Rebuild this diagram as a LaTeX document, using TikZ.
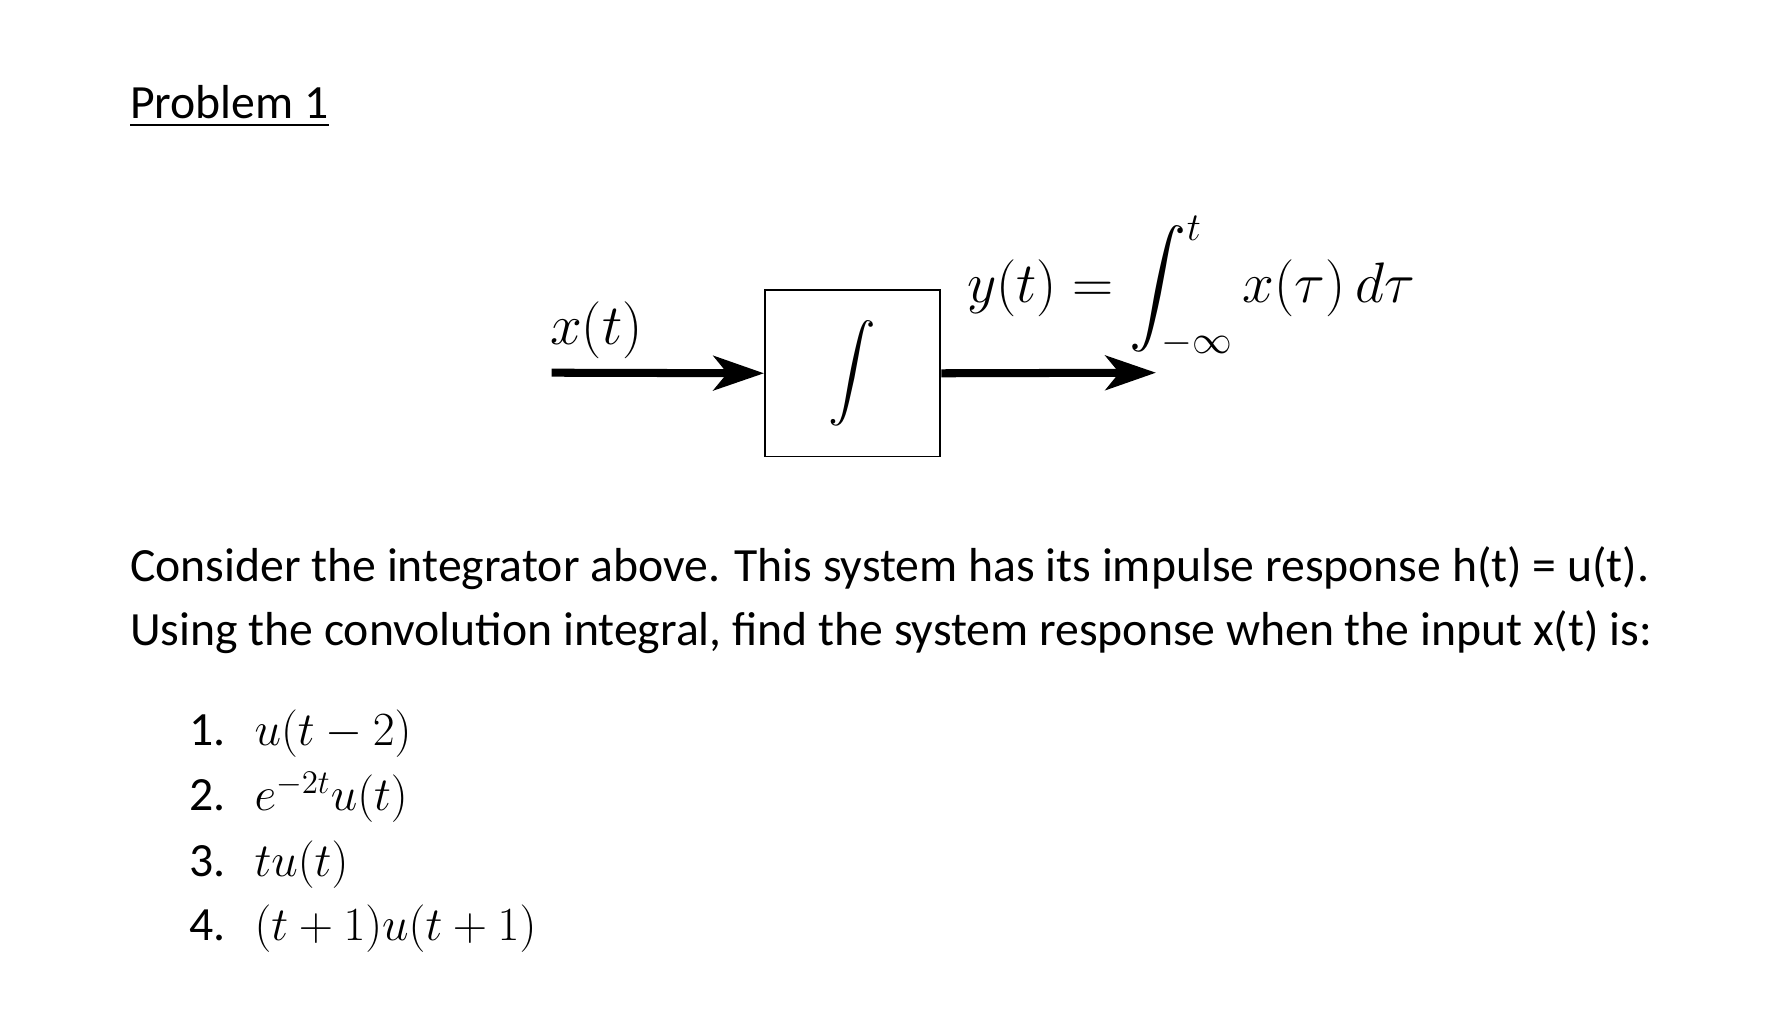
\documentclass[tikz,border=0pt]{standalone}
\usepackage{fontspec}
\usepackage{amsmath}
\setmainfont{Carlito}
\usetikzlibrary{arrows.meta}
\begin{document}
\begin{tikzpicture}[x=0.5pt,y=-0.5pt,
  txt/.style={anchor=base west,inner sep=0pt,font=\fontsize{20.8}{24}\selectfont},
  itm/.style={anchor=base west,inner sep=0pt,font=\fontsize{20.8}{24}\selectfont},
  sig/.style={line width=3.5pt,-{Stealth[length=22pt,width=15pt,inset=6pt]}},
  blk/.style={draw,line width=0.8pt,minimum width=76.5pt,minimum height=72.5pt,inner sep=0pt}]
\useasboundingbox (0,0) rectangle (1560,892);
\node[txt] (title) at (113,103) {\underline{Problem 1}};
\node[blk] (box) at (743.5,325.5) {\fontsize{22}{26}\selectfont$\displaystyle\int$};
\coordinate (in) at (481,325);
\coordinate (out) at (1008,325);
\draw[sig] (in) -- (box.west);
\draw[sig] (box.east) -- (out);
\node (xl) at (520,288) {\fontsize{23}{26}\selectfont$x(t)$};
\node[anchor=west,inner sep=0pt] (yl) at (843,250) {\fontsize{23.5}{27}\selectfont$y(t)=\displaystyle\int_{-\infty}^{t} x(\tau)\,d\tau$};
\node[txt] (l1) at (113,507) {Consider the integrator above. This system has its impulse response h(t) = u(t).};
\node[txt] (l2) at (113,563) {Using the convolution integral, find the system response when the input x(t) is:};
\node[itm] (i1) at (165,650) {1.\hspace{0.6em}$u(t-2)$};
\node[itm] (i2) at (165,707) {2.\hspace{0.6em}$e^{-2t}u(t)$};
\node[itm] (i3) at (165,764) {3.\hspace{0.6em}$tu(t)$};
\node[itm] (i4) at (165,820) {4.\hspace{0.6em}$(t+1)u(t+1)$};
\end{tikzpicture}
\end{document}
